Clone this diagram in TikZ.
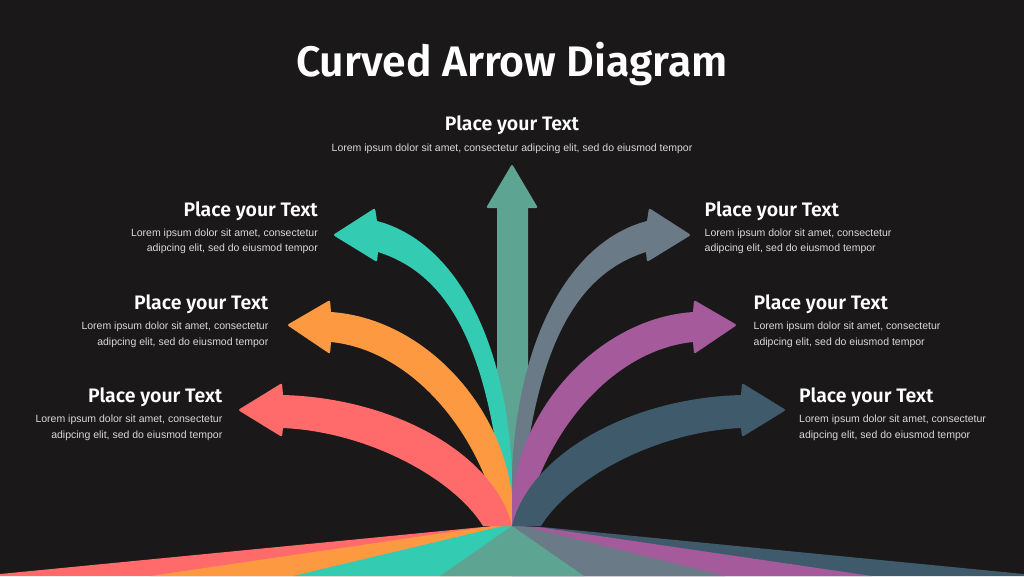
\documentclass[tikz,border=0pt]{standalone}
\usepackage{fontspec}
\setmainfont{Liberation Sans}
\newfontfamily\headfont{Fira Sans SemiBold}
\definecolor{bgc}{HTML}{1A1818}
\definecolor{cred}{HTML}{FF6B6B}
\definecolor{corange}{HTML}{FD9A41}
\definecolor{cteal}{HTML}{33CBB2}
\definecolor{cgreen}{HTML}{5DA493}
\definecolor{cgrey}{HTML}{6A7B87}
\definecolor{cpurple}{HTML}{A45A9B}
\definecolor{cdark}{HTML}{3E5A6B}
\definecolor{bodyc}{HTML}{DADADA}
\tikzset{
  titletext/.style={font=\headfont\fontsize{42.7}{48}\selectfont, text=white, inner sep=0pt},
  headtext/.style={font=\headfont\fontsize{19.5}{24}\selectfont, text=white, inner sep=0pt},
  bodytext/.style={font=\fontsize{10.5}{15.7}\selectfont, text=bodyc, inner sep=0pt},
}
\newcommand{\leftarrows}[3]{%
  % teal/grey
  \fill[#1] (512,526) -- (512,470) .. controls (505,330) and (450,240) .. (377,221)
     [rounded corners=2] -- (375,208) -- (333,235) -- (377,262) [sharp corners] -- (378,252)
     .. controls (450,275) and (492,350) .. (505,526) -- cycle;
  % orange/purple
  \fill[#2] (512,526) -- (512,495) .. controls (500,400) and (420,318) .. (331,312)
     [rounded corners=2] -- (330,300) -- (287,325) -- (330,354) [sharp corners] -- (331,342)
     .. controls (410,350) and (480,430) .. (500,526) -- cycle;
  % red/dark
  \fill[#3] (512,526) .. controls (495,455) and (395,398) .. (283,395)
     [rounded corners=2] -- (282,383) -- (238,410) -- (282,437) [sharp corners] -- (283,428)
     .. controls (370,432) and (455,480) .. (483,526) -- cycle;
}
\begin{document}
\begin{tikzpicture}[x=1pt,y=-1pt]
\fill[bgc] (0,0) rectangle (1024,576);
\useasboundingbox (0,0) rectangle (1024,576);

% bottom fan
\fill[cred] (0,574) -- (483,527) -- (512,526) -- (512,576) -- (0,576) -- cycle;
\fill[corange] (150,576) -- (492,526) -- (512,526) -- (512,576) -- cycle;
\fill[cteal] (293,576) -- (503,526) -- (512,526) -- (512,576) -- cycle;
\fill[cdark] (1024,574) -- (542,527) -- (512,526) -- (512,576) -- (1024,576) -- cycle;
\fill[cpurple] (872,576) -- (538,527) -- (512,526) -- (512,576) -- cycle;
\fill[cgrey] (725,576) -- (528,527) -- (512,526) -- (512,576) -- cycle;
\fill[cgreen] (440,576) -- (512,526) -- (584,576) -- cycle;

% vertical arrow
\fill[cgreen] (497,526) -- (497,208) [rounded corners=2] -- (486,208) -- (512,164) -- (538,208) [sharp corners] -- (528,208) -- (528,526) -- cycle;

% curved arrows
\leftarrows{cteal}{corange}{cred}
\begin{scope}[xshift=1024pt, xscale=-1]
\leftarrows{cgrey}{cpurple}{cdark}
\end{scope}

% texts
\node[titletext, anchor=base] (title) at (512,76) {Curved Arrow Diagram};

\node[headtext, anchor=base] (h0) at (512,130) {Place your Text};
\node[bodytext, anchor=base] (b0) at (512,151.5) {Lorem ipsum dolor sit amet, consectetur adipcing elit, sed do eiusmod tempor};

\node[headtext, anchor=base east] (h1) at (318,216) {Place your Text};
\node[bodytext, anchor=base east, align=right] (b1) at (318,251.7) {Lorem ipsum dolor sit amet, consectetur\\adipcing elit, sed do eiusmod tempor};
\node[headtext, anchor=base east] (h2) at (268.5,309.5) {Place your Text};
\node[bodytext, anchor=base east, align=right] (b2) at (268.5,345) {Lorem ipsum dolor sit amet, consectetur\\adipcing elit, sed do eiusmod tempor};
\node[headtext, anchor=base east] (h3) at (222.5,402.5) {Place your Text};
\node[bodytext, anchor=base east, align=right] (b3) at (222.5,438.3) {Lorem ipsum dolor sit amet, consectetur\\adipcing elit, sed do eiusmod tempor};

\node[headtext, anchor=base west] (h4) at (704.5,216) {Place your Text};
\node[bodytext, anchor=base west, align=left] (b4) at (704.5,251.7) {Lorem ipsum dolor sit amet, consectetur\\adipcing elit, sed do eiusmod tempor};
\node[headtext, anchor=base west] (h5) at (753.5,309.5) {Place your Text};
\node[bodytext, anchor=base west, align=left] (b5) at (753.5,345) {Lorem ipsum dolor sit amet, consectetur\\adipcing elit, sed do eiusmod tempor};
\node[headtext, anchor=base west] (h6) at (799,402.5) {Place your Text};
\node[bodytext, anchor=base west, align=left] (b6) at (799,438.3) {Lorem ipsum dolor sit amet, consectetur\\adipcing elit, sed do eiusmod tempor};
\end{tikzpicture}
\end{document}
